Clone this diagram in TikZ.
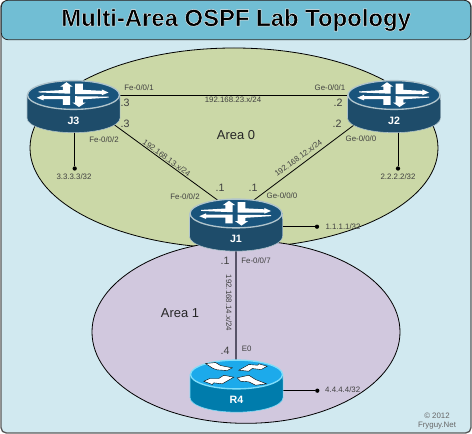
\documentclass[tikz,border=0pt]{standalone}
\usepackage{fontspec}
\setmainfont{Liberation Sans}
\usepackage{tikz}
\usetikzlibrary{shapes.geometric,backgrounds}
\definecolor{panelblue}{RGB}{209,233,240}
\definecolor{titleblue}{RGB}{113,190,212}
\definecolor{areagreen}{RGB}{203,216,167}
\definecolor{areamauve}{RGB}{209,200,222}
\definecolor{junside}{RGB}{30,76,106}
\definecolor{juntop}{RGB}{25,84,124}
\definecolor{junedge}{RGB}{176,196,204}
\definecolor{ciscoside}{RGB}{0,124,172}
\definecolor{ciscotop}{RGB}{28,170,235}
\definecolor{ciscoedge}{RGB}{128,222,250}
\definecolor{linkgray}{RGB}{88,84,104}
\newcommand{\halotext}[1]{\special{pdf:code q 2 Tr 1 1 1 RG 0.3 w}#1\special{pdf:code Q}}
\newcommand{\routerbody}[3]{%
  \fill[#1] (-46.5,-11.5) rectangle (46.5,11.5);
  \fill[#1] (0,11.5) ellipse [x radius=34.9pt, y radius=11pt];
  \draw[#3, line width=0.4pt] (-46.5,-11.5) -- (-46.5,11.5) arc [start angle=180, end angle=360, x radius=34.9pt, y radius=11pt] -- (46.5,-11.5);
  \filldraw[fill=#2, draw=#3, line width=1pt] (0,-11.5) ellipse [x radius=34.5pt, y radius=10.8pt];
}
\newcommand{\junarrows}{%
  \fill[white] (-3.3,-1.3) -- (-3.3,-8.3) -- (-0.7,-8.3) -- (-7,-12.8) -- (-13.3,-8.3) -- (-10.7,-8.3) -- (-10.7,-5) -- (-35,-3.6) -- (-35,-2.6) -- cycle;
  \fill[white] (1.7,-1) -- (1.7,-11.5) -- (9.3,-11.5) -- (9.3,-5.2) -- (28.3,-4.2) -- (28.3,-5.6) -- (35,-2.5) -- (28.3,0.2) -- (28.3,-1) -- cycle;
  \fill[white] (-3.3,1.2) -- (-30,1.2) -- (-30,-0.2) -- (-36.7,2.7) -- (-30,5.4) -- (-30,4) -- (-10.7,4) -- (-10.7,9.8) -- (-3.3,9.8) -- cycle;
  \fill[white] (1.7,1.2) -- (35,1.6) -- (35,2.6) -- (9.3,4.3) -- (9.3,7.7) -- (12,7.7) -- (5.5,12) -- (-0.8,7.7) -- (1.7,7.7) -- cycle;
}
\newcommand{\ciscoarrows}{%
  \filldraw[fill=white, draw=black, line width=0.3pt] (-31,-11) -- (-21,-12) -- (-16,-9) -- (-4.3,-6.7) -- (-9.3,-4) -- (-19.3,-4.7) -- (-23.3,-6) -- cycle;
  \filldraw[fill=white, draw=black, line width=0.3pt] (30.7,-8.3) -- (22.3,-10.7) -- (21.3,-9.3) -- (12.3,-10) -- (2.3,-4.3) -- (12.3,-3.3) -- (15.7,-6) -- (24.7,-5) -- cycle;
  \filldraw[fill=white, draw=black, line width=0.3pt] (-32.7,6.7) -- (-24.3,10) -- (-22.7,8.3) -- (-14.3,9.3) -- (-2.7,2.7) -- (-12.7,0.7) -- (-17.7,4) -- (-26.7,4) -- cycle;
  \filldraw[fill=white, draw=black, line width=0.3pt] (0.7,3.3) -- (12.3,0.7) -- (19,5) -- (30,9.3) -- (19,10.7) -- (12.3,7.3) -- (4,6.7) -- cycle;
}
\tikzset{
juniperbody/.pic={\routerbody{junside}{juntop}{junedge}\begin{scope}[yshift=8.6pt]\junarrows\end{scope}},
ciscobody/.pic={\routerbody{ciscoside}{ciscotop}{ciscoedge}\begin{scope}[yshift=8.6pt]\ciscoarrows\end{scope}}
}

\begin{document}
\begin{tikzpicture}[
x=0.75pt, y=-0.75pt,
router/.style={minimum width=72pt, minimum height=42pt, inner sep=0pt, text=white, font=\fontsize{8}{9}\selectfont\bfseries, text height=27pt, text depth=0pt},
area/.style={ellipse, draw=black, line width=0.6pt, inner sep=0pt},
tag/.style={inner sep=0pt, font=\fontsize{5.9}{7}\selectfont, text=black!75},
hostip/.style={inner sep=0pt, font=\fontsize{8}{9}\selectfont, text=black!75},
areaname/.style={inner sep=0pt, font=\fontsize{9.7}{11}\selectfont, text=black!85},
hostdot/.style={circle, fill=black, inner sep=0pt, minimum size=3.2pt},
link/.style={black, line width=0.6pt},
uplink/.style={linkgray, line width=1.1pt}
]
\useasboundingbox (0,0) rectangle (472,434);
% routers
\pic at (73.5,106.5) {juniperbody};
\pic at (394,106.5) {juniperbody};
\pic at (236,225) {juniperbody};
\pic at (236.5,386) {ciscobody};
\node[router] (j3) at (73.5,106.5) {J3};
\node[router] (j2) at (394,106.5) {J2};
\node[router] (j1) at (236,225) {J1};
\node[router] (r4) at (236.5,386) {R4};
% host addresses
\node[hostdot] (d3) at (74.7,168.5) {};
\node[hostdot] (d2) at (398,168.5) {};
\node[hostdot] (d1) at (317,226.7) {};
\node[hostdot] (d4) at (317.3,390.7) {};
\begin{scope}[on background layer]
\fill[panelblue, draw=black!65, line width=1pt, rounded corners=4pt] (1,1) rectangle (471,433);
\node[draw=black!85, line width=0.6pt, fill=titleblue, rounded corners=5pt, minimum width=352pt, minimum height=29.6pt, inner sep=0pt, font=\fontsize{17.9}{20}\selectfont\bfseries] (title) at (236,20) {\halotext{Multi-Area OSPF Lab Topology}};
\node[area, fill=areagreen, minimum width=306pt, minimum height=150pt] (area0) at (234,148) {};
\node[area, fill=areamauve, minimum width=231pt, minimum height=137pt] (area1) at (246,332) {};
\draw[link] ([yshift=8.6pt]j3.center) -- ([yshift=8.6pt]j2.center);
\draw[link] ([yshift=8.6pt]j3.center) -- ([yshift=8.6pt]j1.center);
\draw[link] ([yshift=8.6pt]j2.center) -- ([yshift=8.6pt]j1.center);
\draw[uplink] (j1.center) -- (j1.center |- r4.center);
\draw[link] (j3.center -| d3) -- (d3);
\draw[link] (j2.center -| d2) -- (d2);
\draw[link] (j1.center |- d1) -- (d1);
\draw[link] (r4.center |- d4) -- (d4);
\end{scope}
% areas
\node[areaname] (a0name) at (236,135) {Area 0};
\node[areaname] (a1name) at (180,313) {Area 1};
% J3 side
\node[tag] (if31) at (139,88) {Fe-0/0/1};
\node[hostip] (ip31) at (125,103) {.3};
\node[hostip] (ip32) at (125,124) {.3};
\node[tag] (if32) at (104,140) {Fe-0/0/2};
\node[tag] (h3) at (74,177) {3.3.3.3/32};
% J2 side
\node[tag] (if21) at (330,88) {Ge-0/0/1};
\node[hostip] (ip21) at (338,103) {.2};
\node[hostip] (ip22) at (337,124) {.2};
\node[tag] (if20) at (361,139) {Ge-0/0/0};
\node[tag] (h2) at (398,177) {2.2.2.2/32};
% J1 side
\node[hostip] (ip11) at (220,188) {.1};
\node[tag] (if12) at (185,197) {Fe-0/0/2};
\node[hostip] (ip12) at (253,188) {.1};
\node[tag] (if10) at (282,196) {Ge-0/0/0};
\node[tag] (h1) at (343,227) {1.1.1.1/32};
\node[hostip] (ip13) at (225,260.7) {.1};
\node[tag] (if17) at (256,260.5) {Fe-0/0/7};
% R4 side
\node[hostip] (ip41) at (225,350.7) {.4};
\node[tag] (if40) at (246.7,349) {E0};
\node[tag] (h4) at (342.7,390) {4.4.4.4/32};
% networks
\node[tag] (n23) at (233,100) {192.168.23.x/24};
\node[tag, rotate=-36] (n13) at (166.7,158) {192.168.13.x/24};
\node[tag, rotate=36] (n12) at (298.3,158) {192.168.12.x/24};
\node[tag, rotate=-90] (n14) at (229,303) {192.168.14.x/24};
% corner note
\node[tag, align=center, text=black!60] (note) at (437,421) {© 2012\\Fryguy.Net};
\end{tikzpicture}
\end{document}
